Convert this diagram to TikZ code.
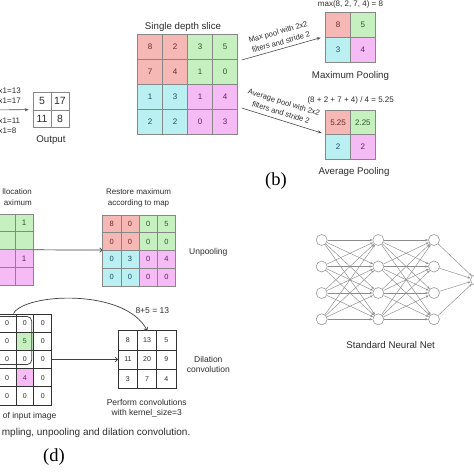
\documentclass[tikz,border=0pt]{standalone}
\usepackage{fontspec}
\setmainfont{Liberation Sans}
\newfontfamily\serifcap{Liberation Serif}
\usetikzlibrary{arrows.meta}
\definecolor{cred}{RGB}{245,184,180}
\definecolor{cgreen}{RGB}{198,240,192}
\definecolor{ccyan}{RGB}{186,240,242}
\definecolor{cmag}{RGB}{245,187,245}
\definecolor{tred}{RGB}{110,40,40}
\definecolor{tgreen}{RGB}{40,90,40}
\definecolor{tcyan}{RGB}{30,75,100}
\definecolor{tmag}{RGB}{100,30,100}
\definecolor{gline}{RGB}{135,135,135}
\definecolor{txt}{RGB}{45,45,45}
\tikzset{
  lbl/.style={inner sep=0pt, text=txt, font=\fontsize{8.5}{10}\selectfont, align=center},
  title/.style={inner sep=0pt, text=txt, font=\fontsize{9.7}{11}\selectfont, align=center},
  small/.style={inner sep=0pt, text=txt, font=\fontsize{8}{9.5}\selectfont, align=center},
  rottext/.style={inner sep=0pt, text=txt, font=\fontsize{7.6}{10.5}\selectfont, align=center},
  cell/.style={draw=gline, line width=0.6pt, inner sep=0pt, font=\fontsize{8}{9}\selectfont},
  kcell/.style={draw=black!80, line width=0.7pt, inner sep=0pt, text=txt, font=\fontsize{7}{8}\selectfont},
  arr/.style={draw=black!70, line width=0.6pt, -{Stealth[length=4pt,width=3pt]}},
  openarr/.style={draw=black!75, line width=0.7pt, -{To[length=3pt,width=5pt]}},
  neuron/.style={circle, draw=black!40, fill=white, line width=0.6pt, minimum size=11pt, inner sep=0pt},
  nnedge/.style={draw=black!45, line width=0.45pt, -{Stealth[length=3pt,width=2.2pt]}},
  capt/.style={inner sep=0pt, font=\serifcap\fontsize{18.5}{20}\selectfont},
}
\newcommand\pickq[1]{\ifcase#1 \def\fc{cred}\def\tc{tred}\or \def\fc{cgreen}\def\tc{tgreen}\or \def\fc{ccyan}\def\tc{tcyan}\or \def\fc{cmag}\def\tc{tmag}\fi}
\begin{document}
\begin{tikzpicture}[x=1pt,y=-1pt]
\useasboundingbox[fill=white] (0,0) rectangle (474,474);

% ---------- top-left output ----------
\node[small, anchor=west, align=left] (t1) at (-1.5,90.7) {x1=13};
\node[small, anchor=west, align=left] (t2) at (-1.5,100.5) {x1=17};
\node[small, anchor=west, align=left] (t3) at (-1.5,120.7) {x1=11};
\node[small, anchor=west, align=left] (t4) at (-1.5,131) {x1=8};
\foreach \v [count=\i from 0] in {5,17,11,8} {
  \pgfmathtruncatemacro\r{int(\i/2)}
  \pgfmathtruncatemacro\c{mod(\i,2)}
  \node[cell, text=txt, font=\fontsize{10.5}{11}\selectfont, minimum width=18pt, minimum height=17.2pt]
    (o\r\c) at ({33+18*(\c+0.5)},{92.7+17.2*(\r+0.5)}) {\v};
}
\coordinate (tls) at (-3,109.9);
\draw[arr, shorten >=4pt] (tls) -- (o10.north west);
\node[title] (outlbl) at (51,140) {Output};

% ---------- single depth slice ----------
\node[title] (sds) at (183,26.5) {Single depth slice};
\foreach \v [count=\i from 0] in {8,2,3,5,7,4,1,0,1,3,1,4,2,2,0,3} {
  \pgfmathtruncatemacro\r{int(\i/4)}
  \pgfmathtruncatemacro\c{mod(\i,4)}
  \pgfmathtruncatemacro\q{(\r>1)*2+(\c>1)}
  \pickq{\q}
  \node[cell, fill=\fc, text=\tc, minimum width=25pt, minimum height=25pt]
    (s\r\c) at ({137.7+25*(\c+0.5)},{34.3+25*(\r+0.5)}) {\v};
}

% ---------- max pooling ----------
\node[small] (maxf) at (350.5,4.5) {max(8, 2, 7, 4) = 8};
\foreach \v [count=\i from 0] in {8,5,3,4} {
  \pgfmathtruncatemacro\r{int(\i/2)}
  \pgfmathtruncatemacro\c{mod(\i,2)}
  \pgfmathtruncatemacro\q{\r*2+\c}
  \pickq{\q}
  \node[cell, fill=\fc, text=\tc, minimum width=24.8pt, minimum height=25pt]
    (mp\r\c) at ({325.7+24.8*(\c+0.5)},{12.3+25*(\r+0.5)}) {\v};
}
\coordinate (mxa) at (241.7,60);
\coordinate (mxb) at (320.7,37.7);
\draw[arr] (mxa) -- (mxb);
\node[rottext, rotate=15.8] (mxt) at (279.5,37) {Max pool with 2x2\\filters and stride 2};
\node[title] (mxl) at (350.5,76) {Maximum Pooling};

% ---------- average pooling ----------
\node[small] (avf) at (350.7,100.7) {(8 + 2 + 7 + 4) / 4 = 5.25};
\foreach \v [count=\i from 0] in {5.25,2.25,2,2} {
  \pgfmathtruncatemacro\r{int(\i/2)}
  \pgfmathtruncatemacro\c{mod(\i,2)}
  \pgfmathtruncatemacro\q{\r*2+\c}
  \pickq{\q}
  \node[cell, fill=\fc, text=\tc, minimum width=24.8pt, minimum height=24.7pt]
    (ap\r\c) at ({325.7+24.8*(\c+0.5)},{110+24.7*(\r+0.5)}) {\v};
}
\coordinate (ava) at (241.7,108);
\coordinate (avb) at (321.7,133);
\draw[arr] (ava) -- (avb);
\node[rottext, rotate=-17.4] (avt) at (282.5,107.5) {Average pool with 2x2\\filters and stride 2};
\node[title] (avl) at (354,172) {Average Pooling};
\node[capt] (capb) at (276,181) {(b)};

% ---------- unpooling ----------
\node[small, anchor=east] (ml1) at (32,191.7) {llocation};
\node[small, anchor=east] (ml2) at (32,202.3) {aximum};
\foreach \r in {0,...,3} \foreach \c in {0,1} {
  \pgfmathtruncatemacro\q{(\r>1)*2+1}
  \pickq{\q}
  \node[cell, fill=\fc, text=\tc, minimum width=18.3pt, minimum height=17.75pt]
    (m\r\c) at ({-3.3+18.3*(\c+0.5)},{214+17.75*(\r+0.5)}) {};
}
\node[inner sep=0pt, text=tgreen, font=\fontsize{8}{9}\selectfont] (m01v) at (m01) {1};
\node[inner sep=0pt, text=tmag, font=\fontsize{8}{9}\selectfont] (m21v) at (m21) {1};

\node[small] (rtl) at (138.5,197.6) {Restore maximum\\[1.2pt]according to map};
\foreach \v [count=\i from 0] in {8,0,0,5,0,0,0,0,0,3,0,4,0,0,0,0} {
  \pgfmathtruncatemacro\r{int(\i/4)}
  \pgfmathtruncatemacro\c{mod(\i,4)}
  \pgfmathtruncatemacro\q{(\r>1)*2+(\c>1)}
  \pickq{\q}
  \node[cell, fill=\fc, text=\tc, font=\fontsize{7.5}{9}\selectfont, minimum width=18.25pt, minimum height=17.7pt]
    (r\r\c) at ({102.7+18.25*(\c+0.5)},{215+17.7*(\r+0.5)}) {\v};
}
\draw[openarr] (m11.south east) -- (r20.north west);
\node[lbl] (unp) at (208.3,252.3) {Unpooling};

% ---------- dilation ----------
\foreach \r in {0,...,4} \foreach \c in {0,1,2} {
  \node[kcell, minimum width=17.9pt, minimum height=18.2pt]
    (d\r\c) at ({-2+17.9*(\c+0.5)},{314+18.2*(\r+0.5)}) {0};
}
\node[kcell, fill=cgreen, text=tgreen, minimum width=17.9pt, minimum height=18.2pt] (d11g) at (d11) {5};
\node[kcell, fill=cmag, text=tmag, minimum width=17.9pt, minimum height=18.2pt] (d31m) at (d31) {4};
\draw[black!75, line width=0.7pt, rounded corners=4.5pt] (-40,316.5) rectangle (31.7,364.5);
\node[lbl, anchor=west] (dinp) at (2.7,416.7) {of input image};

\foreach \v [count=\i from 0] in {8,13,5,11,20,9,3,7,4} {
  \pgfmathtruncatemacro\r{int(\i/3)}
  \pgfmathtruncatemacro\c{mod(\i,3)}
  \node[kcell, minimum width=19.2pt, minimum height=19.2pt]
    (k\r\c) at ({118.3+19.2*(\c+0.5)},{330.7+19.2*(\r+0.5)}) {\v};
}
\draw[openarr] (d22.east) -- (k10.west);
\coordinate (cst) at (13.5,313.5);
\draw[openarr] (cst) .. controls (25,293) and (125,288) .. (k01.north);
\node[lbl] (sum) at (152.3,310.7) {8+5 = 13};
\node[lbl] (dil) at (208.3,364.3) {Dilation\\convolution};
\node[lbl] (perf) at (146.7,408.3) {Perform convolutions\\with kernel\_size=3};
\node[inner sep=0pt, text=txt, font=\fontsize{10}{11}\selectfont, anchor=west] (capt) at (1.7,432.7) {mpling, unpooling and dilation convolution.};
\node[capt] (capd) at (54,456.7) {(d)};

% ---------- neural net ----------
\foreach \l/\x in {1/321.7,2/378.3,3/434} \foreach \k/\y in {1/240,2/266.5,3/293,4/319.3} {
  \node[neuron] (n\l\k) at (\x,\y) {};
}
\node[neuron] (nout) at (476,280) {};
\foreach \k in {1,...,4} \foreach \m in {1,...,4} {
  \draw[nnedge] (n1\k) -- (n2\m);
  \draw[nnedge] (n2\k) -- (n3\m);
}
\foreach \k in {1,...,4} \draw[nnedge] (n3\k) -- (nout);
\node[title] (nnl) at (390.7,345) {Standard Neural Net};
\end{tikzpicture}
\end{document}
